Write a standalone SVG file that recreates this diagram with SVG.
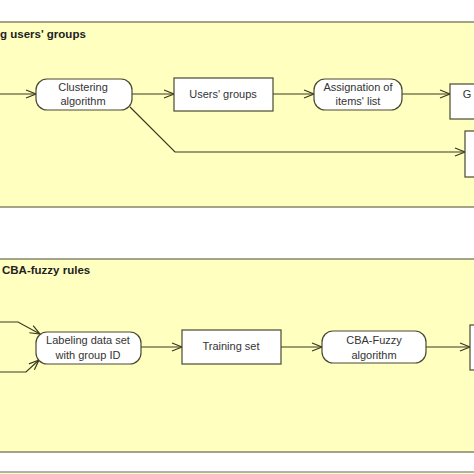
<svg xmlns="http://www.w3.org/2000/svg" width="474" height="474" viewBox="0 0 474 474">
<style>
.panel{fill:#ffffc0;stroke:#85856a;stroke-width:1.5}
.node{fill:#ffffff;stroke:#4a4a30;stroke-width:1.2}
.lbl{font-family:"Liberation Sans",Arial,sans-serif;font-size:11px;fill:#333333;text-anchor:middle}
.title{font-family:"Liberation Sans",Arial,sans-serif;font-size:11.5px;font-weight:bold;fill:#222222}
.edge{fill:none;stroke:#3a3a20;stroke-width:1.2}
</style>
<defs>
<marker id="arr" markerWidth="12" markerHeight="10" refX="11" refY="5" orient="auto" markerUnits="userSpaceOnUse">
<path d="M1,1 L11,5 L1,9" fill="none" stroke="#3a3a20" stroke-width="1.2"/>
</marker>
</defs>
<rect x="0" y="0" width="474" height="474" fill="#ffffff"/>
<g id="panel1">
<rect class="panel" x="-5" y="22" width="490" height="185"/>
<text class="title" x="0" y="38">g users' groups</text>
</g>
<g id="panel2">
<rect class="panel" x="-5" y="259" width="490" height="193"/>
<text class="title" x="2" y="274">CBA-fuzzy rules</text>
</g>
<g id="panel3">
<rect x="-5" y="472" width="490" height="10" fill="#ffffc0" stroke="#999999" stroke-width="1.5"/>
</g>
<g id="connectors">
<path class="edge" d="M0,94 L36,94" marker-end="url(#arr)"/>
<path class="edge" d="M132,94 L174,94" marker-end="url(#arr)"/>
<path class="edge" d="M273,94 L314,94" marker-end="url(#arr)"/>
<path class="edge" d="M402,94 L450,94" marker-end="url(#arr)"/>
<path class="edge" d="M130,107 L175,152 L465,152" marker-end="url(#arr)"/>
<path class="edge" d="M0,322 L18,322 L40,334" marker-end="url(#arr)"/>
<path class="edge" d="M0,372 L26,372 L39,360" marker-end="url(#arr)"/>
<path class="edge" d="M141,347 L182,347" marker-end="url(#arr)"/>
<path class="edge" d="M281,347 L322,347" marker-end="url(#arr)"/>
<path class="edge" d="M426,347 L470,347" marker-end="url(#arr)"/>
</g>
<g id="clustering">
<rect class="node" x="36" y="79" width="96" height="31" rx="11"/>
<text class="lbl" x="83" y="91">Clustering</text>
<text class="lbl" x="83" y="105">algorithm</text>
</g>
<g id="usersgroups">
<rect class="node" x="174" y="78" width="99" height="33"/>
<text class="lbl" x="223" y="98">Users' groups</text>
</g>
<g id="assignation">
<rect class="node" x="314" y="79" width="88" height="31" rx="11"/>
<text class="lbl" x="358" y="91">Assignation of</text>
<text class="lbl" x="358" y="105">items' list</text>
</g>
<g id="gbox">
<rect class="node" x="450" y="84" width="40" height="35"/>
<text class="lbl" x="467" y="98">G</text>
</g>
<g id="rbox1">
<rect class="node" x="465" y="131" width="30" height="46"/>
</g>
<g id="labeling">
<rect class="node" x="36" y="332" width="105" height="32" rx="11"/>
<text class="lbl" x="88" y="344">Labeling data set</text>
<text class="lbl" x="88" y="359">with group ID</text>
</g>
<g id="training">
<rect class="node" x="182" y="330" width="99" height="34"/>
<text class="lbl" x="231" y="350">Training set</text>
</g>
<g id="cbafuzzy">
<rect class="node" x="322" y="331" width="104" height="32" rx="11"/>
<text class="lbl" x="374" y="344">CBA-Fuzzy</text>
<text class="lbl" x="374" y="359">algorithm</text>
</g>
<g id="rbox2">
<rect class="node" x="470" y="325" width="30" height="45"/>
</g>
</svg>
